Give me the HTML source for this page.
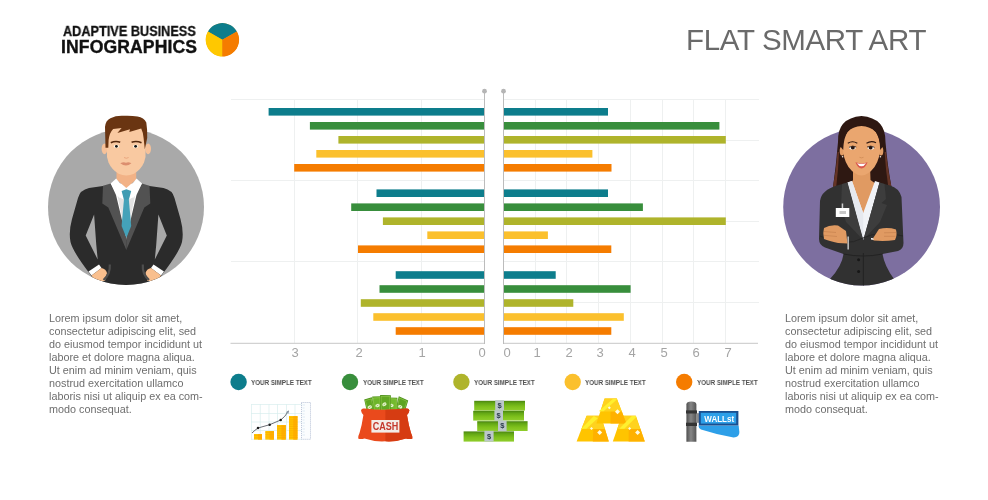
<!DOCTYPE html>
<html>
<head>
<meta charset="utf-8">
<title>Flat Smart Art</title>
<style>
html,body{margin:0;padding:0;background:#fff;}
body{width:988px;height:500px;position:relative;overflow:hidden;font-family:"Liberation Sans",sans-serif;}
#gfx{position:absolute;left:0;top:0;width:988px;height:500px;will-change:transform;}
.t,.para,.ax,.lg{will-change:transform;}
.t{position:absolute;white-space:nowrap;}
.logo1{left:63px;top:23px;font-size:14px;font-weight:bold;color:#111;-webkit-text-stroke:0.3px #111;transform-origin:0 0;transform:scaleX(0.908);}
.logo2{left:60.5px;top:37.2px;font-size:17.6px;font-weight:bold;color:#111;-webkit-text-stroke:0.35px #111;letter-spacing:0.1px;}
.title{left:686px;top:23px;font-size:29.5px;letter-spacing:-0.34px;color:#6a6a6a;}
.para{position:absolute;font-size:10.8px;line-height:13.05px;color:#6e6e6e;white-space:nowrap;}
.ax{position:absolute;font-size:13px;color:#a4a4a4;top:345px;width:20px;text-align:center;}
.lg{position:absolute;top:378.7px;font-size:7px;line-height:8px;font-weight:bold;color:#505050;white-space:nowrap;transform-origin:0 0;transform:scaleX(0.892);}
</style>
</head>
<body>
<svg id="gfx" width="988" height="500" viewBox="0 0 988 500">
<!-- GRID -->
<g stroke="#eef0f0" stroke-width="1" fill="none" shape-rendering="crispEdges">
  <!-- left chart -->
  <path d="M230.5 99.5H484M230.5 180.5H484M230.5 261.5H484"/>
  <path d="M294.5 99V343M357.5 99V343M421.5 99V343"/>
  <!-- right chart -->
  <path d="M503 99.5H758.500M503 140.5H758.500M503 180.5H758.500M503 221.5H758.500M503 261.5H758.500M503 302.5H758.500"/>
  <path d="M535.5 99V343M566.5 99V343M598.5 99V343M630.5 99V343M662.5 99V343M693.5 99V343M725.5 99V343"/>
</g>
<g stroke="#d2d2d2" stroke-width="1.2" fill="none">
  <path d="M230.5 343.3H485M503 343.3H758"/>
</g>
<!-- BARS -->
<g id="bars">
<rect x="268.6" y="108.0" width="215.8" height="7.6" fill="#0d7d8c"/>
<rect x="503.5" y="108.0" width="104.5" height="7.6" fill="#0d7d8c"/>
<rect x="309.9" y="122.0" width="174.5" height="7.6" fill="#388e3c"/>
<rect x="503.5" y="122.0" width="215.9" height="7.6" fill="#388e3c"/>
<rect x="338.4" y="136.0" width="146.0" height="7.6" fill="#afb42b"/>
<rect x="503.5" y="136.0" width="222.3" height="7.6" fill="#afb42b"/>
<rect x="316.3" y="150.0" width="168.1" height="7.6" fill="#fbc02d"/>
<rect x="503.5" y="150.0" width="88.9" height="7.6" fill="#fbc02d"/>
<rect x="294.2" y="164.0" width="190.2" height="7.6" fill="#f57c00"/>
<rect x="503.5" y="164.0" width="108.0" height="7.6" fill="#f57c00"/>
<rect x="376.5" y="189.4" width="107.9" height="7.6" fill="#0d7d8c"/>
<rect x="503.5" y="189.4" width="104.5" height="7.6" fill="#0d7d8c"/>
<rect x="351.2" y="203.4" width="133.2" height="7.6" fill="#388e3c"/>
<rect x="503.5" y="203.4" width="139.4" height="7.6" fill="#388e3c"/>
<rect x="382.9" y="217.4" width="101.5" height="7.6" fill="#afb42b"/>
<rect x="503.5" y="217.4" width="222.3" height="7.6" fill="#afb42b"/>
<rect x="427.3" y="231.4" width="57.1" height="7.6" fill="#fbc02d"/>
<rect x="503.5" y="231.4" width="44.4" height="7.6" fill="#fbc02d"/>
<rect x="358.0" y="245.4" width="126.4" height="7.6" fill="#f57c00"/>
<rect x="503.5" y="245.4" width="107.8" height="7.6" fill="#f57c00"/>
<rect x="395.7" y="271.2" width="88.7" height="7.6" fill="#0d7d8c"/>
<rect x="503.5" y="271.2" width="52.2" height="7.6" fill="#0d7d8c"/>
<rect x="379.5" y="285.2" width="104.9" height="7.6" fill="#388e3c"/>
<rect x="503.5" y="285.2" width="127.1" height="7.6" fill="#388e3c"/>
<rect x="360.8" y="299.2" width="123.6" height="7.6" fill="#afb42b"/>
<rect x="503.5" y="299.2" width="69.8" height="7.6" fill="#afb42b"/>
<rect x="373.3" y="313.2" width="111.1" height="7.6" fill="#fbc02d"/>
<rect x="503.5" y="313.2" width="120.3" height="7.6" fill="#fbc02d"/>
<rect x="395.7" y="327.2" width="88.7" height="7.6" fill="#f57c00"/>
<rect x="503.5" y="327.2" width="107.8" height="7.6" fill="#f57c00"/>
</g>
<!-- AXES -->
<g stroke="#bcbcbc" stroke-width="1" fill="none" shape-rendering="crispEdges">
  <path d="M484.5 91V343.5M503.5 91V343.5"/>
</g>
<circle cx="484.5" cy="91.2" r="2.4" fill="#b5b5b5"/>
<circle cx="503.5" cy="91.2" r="2.4" fill="#b5b5b5"/>

<!-- PIE LOGO -->
<g id="pie">
<circle cx="222.4" cy="39.8" r="16.5" fill="#e8a020"/>
<path d="M222.4 39.8L236.86 31.45A16.7 16.7 0 0 0 207.94 31.45Z" fill="#0d7d8c"/>
<path d="M222.4 39.8L207.94 31.45A16.7 16.7 0 0 0 222.40 56.50Z" fill="#ffc800"/>
<path d="M222.4 39.8L222.40 56.50A16.7 16.7 0 0 0 236.86 31.45Z" fill="#f57c00"/>
</g>
<!-- LEGEND DOTS -->
<g id="dots">
<circle cx="238.6" cy="382" r="8.2" fill="#0d7d8c"/>
<circle cx="350" cy="382" r="8.2" fill="#388e3c"/>
<circle cx="461.4" cy="382" r="8.2" fill="#afb42b"/>
<circle cx="572.7" cy="382" r="8.2" fill="#fbc02d"/>
<circle cx="684.2" cy="382" r="8.2" fill="#f57c00"/>
</g>
<!-- PEOPLE -->
<g id="man">
<defs><clipPath id="mclip"><circle cx="126" cy="207" r="78"/><rect x="40" y="100" width="180" height="107"/></clipPath></defs>
<circle cx="126" cy="207" r="78" fill="#a9a9a9"/>
<g clip-path="url(#mclip)">
<!-- suit body with arms -->
<path d="M103 186 L89 188 Q80 190 78 198 L72 219 Q68.5 232 70.5 242 Q73 252 90 274 L100 290 L152.5 290 L162.5 274 Q179.5 252 182 242 Q184 232 180.5 219 L174.5 198 Q172.500 190 163.5 188 L149.5 186 Z" fill="#2b2b2b"/>
<!-- gaps between arms and torso -->
<path d="M94.1 214.6 L85.7 235.5 L97.7 259.5 L96.3 245 Z" fill="#a9a9a9"/>
<path d="M158.4 214.600 L166.8 235.5 L154.8 259.5 L156.2 245 Z" fill="#a9a9a9"/>
<!-- cuffs -->
<path d="M88.5 271.5 L99 264.5 L101.5 268 L91.5 275.5 Z" fill="#fff"/>
<path d="M164 271.5 L153.500 264.5 L151 268 L161 275.5 Z" fill="#fff"/>
<!-- hands -->
<path d="M91.5 275.5 L101.5 268 Q106 269 107 273 L105 281 L95 281 Z" fill="#f9bf8e"/>
<path d="M161 275.5 L151 268 Q146.500 269 145.5 273 L147.5 281 L157.5 281 Z" fill="#f9bf8e"/>
<!-- pockets -->
<path d="M109.8 264.5 Q110.500 274 103.500 280" stroke="#4e4e4e" stroke-width="2.2" fill="none"/>
<path d="M142.8 264.5 Q142 274 149 280" stroke="#4e4e4e" stroke-width="2.2" fill="none"/>
<!-- shirt -->
<path d="M110.7 183.4 L126.3 240 L142 183.4 Z" fill="#fff"/>
<path d="M117.5 196 L126.3 238.600 L135 196 L130 199 L122.5 199 Z" fill="#e3e3e3"/>
<!-- lapels -->
<path d="M103 185.8 L110.7 183.4 L116 195 L126.3 238 L126.3 250 L108.3 207.4 L102.3 203.5 Z" fill="#525252"/>
<path d="M149.5 185.8 L141.9 183.4 L136.5 195 L126.3 238 L126.3 250 L144.3 207.4 L150.3 203.5 Z" fill="#525252"/>
<!-- tie -->
<path d="M124 199 L128.800 199 L131.200 226 L126.400 237.800 L121.600 226 Z" fill="#44a2b9"/>
</g>
<!-- neck -->
<path d="M116.5 168 L136.2 168 L136.2 179.500 L126.3 188 L116.5 179.500 Z" fill="#f2b286"/>
<!-- collar -->
<path d="M116.2 178.6 L110.7 183.6 L119.5 198 L126.3 191.5 Z" fill="#fff"/>
<path d="M136.500 178.6 L142 183.6 L133.2 198 L126.3 191.5 Z" fill="#fff"/>
<path d="M121.600 191 L126.400 189.300 L131.200 191 L129 199.300 L123.800 199.300 Z" fill="#3f9cb3"/>
<!-- ears -->
<ellipse cx="104.5" cy="148.800" rx="2.9" ry="5.4" fill="#f6c199"/>
<ellipse cx="148.100" cy="148.800" rx="2.9" ry="5.4" fill="#f6c199"/>
<!-- face -->
<path d="M107 128 L145.5 128 L145.5 157 L144 162.500 Q141 169.500 134 173.800 Q126.3 177 118.600 173.800 Q111.600 169.500 108.500 162.500 L107 157 Z" fill="#f9c9a1"/>
<!-- hair -->
<path d="M105.5 147.800 L105 127 Q105.500 120.500 110.400 118.200 Q116 115.500 123 115.800 Q131 115.300 137.500 116.600 Q144 117.500 146.300 122.600 Q147.500 130 147.200 138 L144.800 149.200 L143.600 138 Q143 132 141.200 128.500 L129.300 132.100 L130 129.300 L117.400 133.100 L121.600 128 L113.200 128.900 Q109.500 132.500 108.600 140 L108.300 147.800 Z" fill="#6a3512"/>
<!-- brows -->
<path d="M110.8 142.800 Q115.5 140.500 120.2 142.3" stroke="#55290e" stroke-width="1.6" fill="none"/>
<path d="M131.6 142.3 Q136.5 140.500 141.5 142.800" stroke="#55290e" stroke-width="1.6" fill="none"/>
<!-- eyes -->
<ellipse cx="116.4" cy="146.3" rx="2.8" ry="1.6" fill="#fdf6e6"/>
<ellipse cx="135.6" cy="146.3" rx="2.8" ry="1.6" fill="#fdf6e6"/>
<circle cx="116.4" cy="146.3" r="1.4" fill="#141414"/>
<circle cx="135.6" cy="146.3" r="1.4" fill="#141414"/>
<!-- nose + mouth -->
<path d="M124 157.500 Q126.300 159 128.6 157.500" stroke="#eaa77f" stroke-width="1" fill="none"/>
<path d="M120.3 163.200 Q123.500 161.800 126 162.700 Q128.500 161.800 131.4 163.200 Q126 167.600 120.300 163.200 Z" fill="#dc8e6e"/>
</g>
<g id="woman">
<defs><clipPath id="wclip"><circle cx="861.6" cy="207" r="78.4"/><rect x="780" y="100" width="180" height="107"/></clipPath></defs>
<circle cx="861.6" cy="207" r="78.4" fill="#7d6fa0"/>
<g clip-path="url(#wclip)">
<!-- hair back -->
<path d="M838 142 Q837 118 861.500 116 Q886 118 885.5 142 Q887.5 166 891.500 187 L873 187 L851 187 L833 187 Q836 166 838 142 Z" fill="#2e1812"/>
<path d="M837.600 152 Q836 171 833 187 L836.200 187 Q838.300 171 839 152 Z" fill="#643426"/>
<path d="M886 152 Q888 171 891.500 187 L888.300 187 Q885.800 171 884.600 152 Z" fill="#643426"/>
<!-- neck / chest skin -->
<path d="M853 165 L870 165 L870.500 180 L876 184 L863.2 214 L850.500 184 L853 180 Z" fill="#e09a62"/>
<!-- jacket body -->
<path d="M837 185.5 L851.5 181.5 L863.3 240 L875.5 181.5 L890 185.5 Q899 188 901.5 197 L903.5 243 Q903.500 249 898 251 L882.5 254 Q884.5 266 894 279 L897 290 L828 290 L830 279 Q842 266 843.5 254 L825 247.5 Q819 245 819 239 L820 201 Q821.500 190 837 185.500 Z" fill="#313131"/>
<!-- blouse -->
<path d="M847.5 182.5 L852 181 L863.200 213 L875 181 L879.5 182.5 L863.3 240 Z" fill="#f1f3f7"/>
<path d="M847.5 182.5 L852 181 L863.2 213 L863.300 240 Z" fill="#e6e9ef"/>
<!-- lapels -->
<path d="M842 184 L847.5 182.5 L863.3 240 L846 222 L841 206 Z" fill="#3d3d3d"/>
<path d="M884.500 184 L879.5 182.5 L863.3 240 L880 222 L887 205 L881.5 203 L886 199 Z" fill="#3d3d3d"/>
<!-- arm shading lines -->
<path d="M820 236 Q845 248 863 238 Q880 230 903 236" stroke="#262626" stroke-width="1" fill="none"/>
<path d="M863.4 253 L863.4 290" stroke="#232323" stroke-width="1"/>
<path d="M843.500 254 Q863 258 882.5 254" stroke="#232323" stroke-width="1" fill="none"/>
<!-- buttons -->
<circle cx="858.6" cy="259.7" r="1.5" fill="#171717"/>
<circle cx="858.6" cy="271.5" r="1.5" fill="#171717"/>
<!-- cuffs -->
<path d="M847.500 236.500 L848.800 236.500 L848.800 249.600 L847.500 249.600 Z" fill="#dcdcdc"/>
<path d="M871 238 L874.5 238.500 L874.5 240 L871 239.5 Z" fill="#fff"/>
<!-- hands -->
<path d="M824 228 Q830 224.5 838 225.500 L846 231 L847.5 243.5 L838 243 Q829 241 824 239 Q822.5 233 824 228 Z" fill="#e09a62"/>
<path d="M873.5 237.500 L879 229 Q888 227 896 229.5 Q897.500 235 895 240 Q885 241.5 873.5 240.5 Z" fill="#e09a62"/>
<path d="M824 231.500 L836 232.5 M824 235.300 L837 236.500" stroke="#c98552" stroke-width="0.8" fill="none"/>
<path d="M884 232.800 L896 232.500 M884 236.300 L895.5 236.300" stroke="#c98552" stroke-width="0.8" fill="none"/>
<!-- badge -->
<rect x="841.7" y="203.500" width="1.5" height="5" fill="#cfcfcf"/>
<rect x="835.8" y="208" width="13.5" height="9" fill="#fff"/>
<rect x="839.5" y="211" width="6.5" height="3" fill="#c9c9c9"/>
</g>
<!-- ears -->
<ellipse cx="842" cy="151" rx="2.3" ry="4.600" fill="#e29d66"/>
<ellipse cx="881" cy="151" rx="2.300" ry="4.600" fill="#e29d66"/>
<circle cx="842.6" cy="156.800" r="0.8" fill="#f4ece6"/>
<circle cx="880.4" cy="156.8" r="0.8" fill="#f4ece6"/>
<!-- face -->
<path d="M843 146 Q843.500 127 861.5 126 Q879.500 127 880.2 146 Q880.5 158 874.5 167 Q868 175.500 861.5 175.5 Q855 175.500 848.5 167 Q842.5 158 843 146 Z" fill="#eaa66f"/>
<!-- hair front -->
<path d="M861.5 125.500 Q843.500 125.500 843.200 150 L840 146 Q838 119 861.5 118 Q885 119 883.200 146 L880.200 150 Q880 125.500 861.5 125.500 Z" fill="#2e1812"/>
<!-- brows -->
<path d="M847.8 143.300 Q852.5 140.300 857.3 143.300" stroke="#2d1710" stroke-width="1.1" fill="none"/>
<path d="M866.5 143.300 Q871.3 140.300 876 142.800" stroke="#2d1710" stroke-width="1.1" fill="none"/>
<!-- eyes -->
<ellipse cx="852.5" cy="147.800" rx="3.3" ry="1.8" fill="#fff"/>
<ellipse cx="870.8" cy="147.800" rx="3.3" ry="1.800" fill="#fff"/>
<ellipse cx="852.8" cy="147.700" rx="2" ry="1.8" fill="#24130e"/>
<ellipse cx="870.6" cy="147.700" rx="2" ry="1.800" fill="#24130e"/>
<path d="M849 147.300 Q852.5 145 856.300 147" stroke="#24130e" stroke-width="0.8" fill="none"/>
<path d="M867 147 Q870.800 145 874.5 147.300" stroke="#24130e" stroke-width="0.8" fill="none"/>
<!-- nose -->
<path d="M859.5 157.300 Q861.500 158.500 863.5 157.300" stroke="#d18d58" stroke-width="0.9" fill="none"/>
<!-- mouth -->
<path d="M855.4 162.300 Q861.5 164 867.6 162.300 Q865 168.500 861.5 168.500 Q858 168.500 855.400 162.300 Z" fill="#d9584e"/>
<path d="M857 163.200 Q861.5 164.300 866 163.200 Q864 166.300 861.5 166.300 Q859 166.300 857 163.200 Z" fill="#fff"/>
</g>
<!-- ICONS -->
<g id="ic1">
<g stroke="#d9eeee" stroke-width="0.7" fill="none">
<path d="M251 404.5H302M251 413.5H302M251 422H302M251 430.5H302M251 439.3H302M251.5 404.200V439.700M260.3 404.200V439.700M269 404.200V439.700M277.5 404.200V439.700M286.5 404.200V439.700M295 404.200V439.700"/></g>
<rect x="254" y="434" width="8.0" height="5.6" fill="#ffc400"/>
<rect x="258.0" y="434" width="4.0" height="5.6" fill="#ffb000"/>
<path d="M254 435.6H262M254 437.8H262" stroke="#f9a400" stroke-width="0.5" fill="none"/>
<rect x="265.3" y="431" width="8.7" height="8.6" fill="#ffc400"/>
<rect x="269.6" y="431" width="4.3" height="8.6" fill="#ffb000"/>
<path d="M265.3 432.6H274M265.3 434.8H274M265.3 437.0H274" stroke="#f9a400" stroke-width="0.5" fill="none"/>
<rect x="277" y="425" width="8.8" height="14.6" fill="#ffc400"/>
<rect x="281.4" y="425" width="4.4" height="14.6" fill="#ffb000"/>
<path d="M277 426.6H285.8M277 428.8H285.8M277 431.0H285.8M277 433.2H285.8M277 435.4H285.8M277 437.6H285.8" stroke="#f9a400" stroke-width="0.5" fill="none"/>
<rect x="289" y="416" width="8.5" height="23.6" fill="#ffc400"/>
<rect x="293.2" y="416" width="4.2" height="23.6" fill="#ffb000"/>
<path d="M289 417.6H297.5M289 419.8H297.5M289 422.0H297.5M289 424.2H297.5M289 426.4H297.5M289 428.6H297.5M289 430.8H297.5M289 433.0H297.5M289 435.2H297.5M289 437.4H297.5" stroke="#f9a400" stroke-width="0.5" fill="none"/>
<path d="M252 433 Q255 430 258 428 L269.7 424.7 L280.7 420 Q285 417 288.5 411" stroke="#5a5f66" stroke-width="0.9" fill="none"/>
<path d="M288.9 410.300 L285.800 412.200 L288.5 413.700 Z" fill="#8a95a5"/>
<circle cx="258" cy="428" r="1.25" fill="#1c1c1c"/>
<circle cx="269.7" cy="424.7" r="1.25" fill="#1c1c1c"/>
<circle cx="280.7" cy="420" r="1.25" fill="#1c1c1c"/>
<rect x="301.5" y="402.5" width="9" height="36.800" fill="#fbfdfe" stroke="#8f9fc0" stroke-width="0.8" stroke-dasharray="0.8 1.2"/>
<path d="M302.500 405H305M302.5 408H304.500M302.5 411H305M302.5 414H304.5M302.5 417H305M302.5 420H304.5M302.500 423H305M302.5 426H304.5M302.5 429H305M302.5 432H304.5M302.5 435H305" stroke="#cfe0ee" stroke-width="0.6"/>
</g>
<g id="ic2">
<!-- bills -->
<g>
<polygon points="364.2,399.4 371.8,397.3 375.0,410.0 366.8,411.0" fill="#4c9018"/><polygon points="365.3,400.5 371.3,398.8 373.9,410.0 367.9,411.0" fill="#60a622" stroke="#a9dc5e" stroke-width="0.5"/><ellipse cx="369.8" cy="407.2" rx="2.2" ry="1.7" fill="#e6f4cc" transform="rotate(-20 369.8 407.2)"/><path d="M368.9 407.8L370.7 406.6" stroke="#5b9e22" stroke-width="0.6"/>
<polygon points="398.8,396.3 408.2,400.5 405.0,411.0 395.5,410.0" fill="#4a8e18"/><polygon points="399.4,397.8 406.9,401.3 403.9,411.0 396.6,410.0" fill="#5ea422" stroke="#a9dc5e" stroke-width="0.5"/><ellipse cx="400.2" cy="406.8" rx="2.2" ry="1.7" fill="#e6f4cc" transform="rotate(25 400.2 406.8)"/><path d="M399.3 407.4L401.1 406.2" stroke="#5b9e22" stroke-width="0.6"/>
<polygon points="372.2,396.6 380.9,396.3 381.2,410.0 373.2,410.0" fill="#55991c"/><polygon points="373.1,397.9 380.1,397.6 380.1,410.0 374.3,410.0" fill="#6db52a" stroke="#a9dc5e" stroke-width="0.5"/><ellipse cx="377.5" cy="405.6" rx="2.2" ry="1.7" fill="#e6f4cc" transform="rotate(-8 377.5 405.6)"/><path d="M376.6 406.2L378.4 405.0" stroke="#5b9e22" stroke-width="0.6"/>
<polygon points="387.6,397.4 397.4,397.7 397.4,410.0 387.6,410.0" fill="#55991c"/><polygon points="388.6,398.6 396.4,398.9 396.3,410.0 388.7,410.0" fill="#74ba2e" stroke="#a9dc5e" stroke-width="0.5"/><ellipse cx="391.4" cy="405.4" rx="2.2" ry="1.7" fill="#e6f4cc" transform="rotate(5 391.4 405.4)"/><path d="M390.5 406.0L392.3 404.8" stroke="#5b9e22" stroke-width="0.6"/>
<polygon points="380.1,395.1 390.9,395.3 390.6,410.0 380.1,410.0" fill="#4c9018"/><polygon points="381.0,396.4 390.0,396.5 389.5,410.0 381.2,410.0" fill="#62a824" stroke="#a9dc5e" stroke-width="0.5"/><ellipse cx="384.4" cy="404.3" rx="2.2" ry="1.7" fill="#e6f4cc" transform="rotate(-30 384.4 404.3)"/><path d="M383.5 404.9L385.3 403.7" stroke="#5b9e22" stroke-width="0.6"/>
</g>
<!-- bag -->
<path d="M361 410.500 Q361.500 408 364.500 408.600 Q385.400 411 406 408.600 Q409 408 409.400 410.500 Q409 413 407 415 Q408.500 425 411 433 Q412.800 436.500 412.400 438.500 Q410 439.500 406 438.500 Q396 442 385.400 441.300 Q375 442 364.500 438.500 Q360.500 439.500 358.200 438.500 Q357.800 436.500 359.500 433 Q362 425 363.400 415 Q361.400 413 361 410.500 Z" fill="#ea4a1c"/>
<path d="M385.400 409.800 Q396 409.700 406 408.600 Q409 408 409.400 410.500 Q409 413 407 415 Q408.500 425 411 433 Q412.800 436.500 412.400 438.500 Q410 439.500 406 438.500 Q396 442 385.400 441.300 Z" fill="#d63c12"/>
<rect x="371.4" y="420" width="28" height="12.600" fill="#f3ece6"/>
<text x="385.600" y="430.100" text-anchor="middle" font-family="Liberation Sans, sans-serif" font-weight="bold" font-size="10.300" fill="#c4382c" textLength="25.600" lengthAdjust="spacingAndGlyphs">CASH</text>
</g>
<g id="ic3">
<defs><linearGradient id="gg" x1="0" y1="0" x2="0" y2="1"><stop offset="0" stop-color="#4a8410"/><stop offset="0.25" stop-color="#64a815"/><stop offset="0.6" stop-color="#7ec01c"/><stop offset="1" stop-color="#8fcd2c"/></linearGradient></defs>
<rect x="474.2" y="400.8" width="50.8" height="9.8" fill="url(#gg)"/>
<rect x="495.2" y="400.2" width="8.8" height="10.4" fill="#bcc7ca"/>
<text x="499.6" y="408.0" text-anchor="middle" font-family="Liberation Sans, sans-serif" font-weight="bold" font-size="7.5" fill="#2c3c4c">$</text>
<rect x="473.2" y="410.8" width="50.8" height="9.8" fill="url(#gg)"/>
<rect x="494.4" y="410.2" width="8.6" height="10.4" fill="#bcc7ca"/>
<text x="498.7" y="418.0" text-anchor="middle" font-family="Liberation Sans, sans-serif" font-weight="bold" font-size="7.5" fill="#2c3c4c">$</text>
<rect x="477.2" y="421.2" width="50.4" height="9.8" fill="url(#gg)"/>
<rect x="498" y="420.6" width="8.6" height="10.4" fill="#bcc7ca"/>
<text x="502.3" y="428.4" text-anchor="middle" font-family="Liberation Sans, sans-serif" font-weight="bold" font-size="7.5" fill="#2c3c4c">$</text>
<rect x="463.6" y="431.4" width="50.4" height="10.2" fill="url(#gg)"/>
<rect x="484.4" y="430.8" width="9.2" height="10.8" fill="#bcc7ca"/>
<text x="489.0" y="439.0" text-anchor="middle" font-family="Liberation Sans, sans-serif" font-weight="bold" font-size="7.5" fill="#2c3c4c">$</text>
</g>
<g id="ic4">
<path d="M586.6 415.8L600.8 415.8L608.8 441.4L576.6 441.4Z" fill="#ffc400"/>
<path d="M593.3 428.7L604.9 428.7L608.8 441.4L592.8 441.4Z" fill="#ffb100"/>
<path d="M586.6 415.8L600.8 415.8L604.9 429L581.4 429Z" fill="#ffd21e"/>
<path d="M621.8 415.8L635.8 415.8L644.8 441.4L612.8 441.4Z" fill="#ffc400"/>
<path d="M628.7 428.7L640.4 428.7L644.8 441.4L628.6 441.4Z" fill="#ffb100"/>
<path d="M621.8 415.8L635.8 415.8L640.4 429L617.2 429Z" fill="#ffd21e"/>
<path d="M604.6 398.6L616.8 398.6L626.4 423.6L596.4 423.6Z" fill="#ffc400"/>
<path d="M610.5 411.3L621.8 411.3L626.4 423.6L610.6 423.6Z" fill="#ffb100"/>
<path d="M604.6 398.6L616.8 398.6L621.8 411.6L600.3 411.6Z" fill="#ffd21e"/>
<path d="M598.800 411.300 L612.800 398.900 L616.700 398.900 L616.900 399.500 L603.600 411.300 Z" fill="#fff02e"/>
<path d="M581.300 428.700 L593.800 416.100 L597.800 418.300 L586.300 428.700 Z" fill="#fff02e"/>
<path d="M619.300 428.700 L631.800 416.100 L635.800 416.100 L636.100 417.300 L624.300 428.700 Z" fill="#fff02e"/>
<path d="M617.5 409.3L620.0 411.8L617.5 414.3L615.0 411.8Z" fill="#fffbe0"/>
<path d="M609.3 406.3L610.8 407.8L609.3 409.3L607.8 407.8Z" fill="#fffbe0"/>
<path d="M599.7 430.1L602.2 432.6L599.7 435.1L597.2 432.6Z" fill="#fffbe0"/>
<path d="M591.5 427.1L593.0 428.6L591.5 430.1L590.0 428.6Z" fill="#fffbe0"/>
<path d="M637.6 430.1L640.1 432.6L637.6 435.1L635.1 432.6Z" fill="#fffbe0"/>
<path d="M629.6 427.1L631.1 428.6L629.6 430.1L628.1 428.6Z" fill="#fffbe0"/>
</g>
<g id="ic5">
<defs><linearGradient id="pg" x1="0" y1="0" x2="1" y2="0"><stop offset="0" stop-color="#4f4f4f"/><stop offset="0.45" stop-color="#868686"/><stop offset="1" stop-color="#555"/></linearGradient></defs>
<path d="M686.400 441.800 L686.400 404.400 Q686.400 401.400 691.400 401.400 Q696.400 401.400 696.400 404.400 L696.400 441.800 Z" fill="url(#pg)"/>
<rect x="696" y="413.200" width="4" height="9.600" fill="#8c8c8c"/>
<rect x="686" y="410.400" width="11" height="3.100" fill="#343434"/>
<rect x="686" y="422.700" width="11" height="3.300" fill="#343434"/>
<path d="M698.400 425.400 L738.600 425.400 L739.400 432 Q739.400 437.500 733.500 437.400 Q716 434.500 701 429.500 Q698.600 428.500 698.400 425.400 Z" fill="#2d9fe8"/>
<rect x="698.800" y="411" width="39.600" height="14.500" fill="#1b4f8f"/>
<rect x="700.800" y="412.800" width="35.400" height="10.800" fill="#2d9fe8"/>
<text x="704.300" y="421.500" font-family="Liberation Sans, sans-serif" font-weight="bold" font-size="8.800" fill="#fff" textLength="29.800" lengthAdjust="spacingAndGlyphs">WALLst</text>
</g>
</svg>

<div class="t logo1">ADAPTIVE BUSINESS</div>
<div class="t logo2">INFOGRAPHICS</div>
<div class="t title">FLAT SMART ART</div>

<div class="para" style="left:49px;top:312px;">Lorem ipsum dolor sit amet,<br>consectetur adipiscing elit, sed<br>do eiusmod tempor incididunt ut<br>labore et dolore magna aliqua.<br>Ut enim ad minim veniam, quis<br>nostrud exercitation ullamco<br>laboris nisi ut aliquip ex ea com-<br>modo consequat.</div>
<div class="para" style="left:784.8px;top:312px;">Lorem ipsum dolor sit amet,<br>consectetur adipiscing elit, sed<br>do eiusmod tempor incididunt ut<br>labore et dolore magna aliqua.<br>Ut enim ad minim veniam, quis<br>nostrud exercitation ullamco<br>laboris nisi ut aliquip ex ea com-<br>modo consequat.</div>

<div class="ax" style="left:285px;">3</div>
<div class="ax" style="left:349px;">2</div>
<div class="ax" style="left:412px;">1</div>
<div class="ax" style="left:472px;">0</div>
<div class="ax" style="left:497px;">0</div>
<div class="ax" style="left:526.5px;">1</div>
<div class="ax" style="left:558.5px;">2</div>
<div class="ax" style="left:590px;">3</div>
<div class="ax" style="left:622px;">4</div>
<div class="ax" style="left:654px;">5</div>
<div class="ax" style="left:685.5px;">6</div>
<div class="ax" style="left:717.5px;">7</div>

<div class="lg" style="left:251px;">YOUR SIMPLE TEXT</div>
<div class="lg" style="left:362.7px;">YOUR SIMPLE TEXT</div>
<div class="lg" style="left:474.3px;">YOUR SIMPLE TEXT</div>
<div class="lg" style="left:585.4px;">YOUR SIMPLE TEXT</div>
<div class="lg" style="left:697px;">YOUR SIMPLE TEXT</div>
</body>
</html>
